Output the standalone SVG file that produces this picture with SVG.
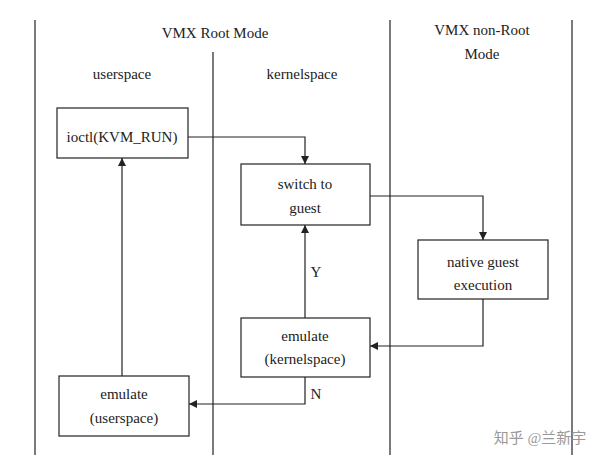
<svg xmlns="http://www.w3.org/2000/svg" width="600" height="461" viewBox="0 0 600 461">
<defs>
<marker id="ah" viewBox="0 0 10 10" refX="10" refY="5" markerWidth="8" markerHeight="8" orient="auto" markerUnits="userSpaceOnUse"><path d="M0,0 L10,5 L0,10 z" fill="#222"/></marker>
</defs>
<style>
text{font-family:"Liberation Serif","Noto Sans CJK SC",serif;font-size:15px;fill:#222;text-anchor:middle}
.box{fill:#fff;stroke:#222;stroke-width:1.2}
.ln{stroke:#222;stroke-width:1.2;fill:none}
.c{stroke:#222;stroke-width:1.2;fill:none;marker-end:url(#ah)}
</style>
<rect width="600" height="461" fill="#fff"/>
<g id="lanes">
<line class="ln" x1="35" y1="20" x2="35" y2="455"/>
<line class="ln" x1="213" y1="52" x2="213" y2="455"/>
<line class="ln" x1="390" y1="20" x2="390" y2="455"/>
<line class="ln" x1="572" y1="20" x2="572" y2="455"/>
<text x="215" y="38">VMX Root Mode</text>
<text x="482" y="35">VMX non-Root</text>
<text x="482" y="59">Mode</text>
<text x="122" y="79">userspace</text>
<text x="302" y="79">kernelspace</text>
</g>
<g id="connectors">
<path class="c" d="M188,137 H305 V164"/>
<path class="c" d="M370,196 H483 V240"/>
<path class="c" d="M483,299 V346 H370"/>
<path class="c" d="M305,318 V225"/>
<path class="c" d="M305,377 V404 H189"/>
<path class="c" d="M122,376 V158"/>
<text x="316" y="277">Y</text>
<text x="316" y="399">N</text>
</g>
<g id="ioctl"><rect class="box" x="57" y="108" width="131" height="50"/><text x="122" y="142">ioctl(KVM_RUN)</text></g>
<g id="switch"><rect class="box" x="241" y="164" width="129" height="61"/><text x="305" y="189">switch to</text><text x="305" y="213">guest</text></g>
<g id="native"><rect class="box" x="418" y="240" width="130" height="59"/><text x="483" y="267">native guest</text><text x="483" y="290">execution</text></g>
<g id="emuk"><rect class="box" x="241" y="318" width="129" height="59"/><text x="305" y="341">emulate</text><text x="305" y="364">(kernelspace)</text></g>
<g id="emuu"><rect class="box" x="59" y="376" width="130" height="60"/><text x="124" y="399">emulate</text><text x="124" y="423">(userspace)</text></g>
<text x="540" y="443" style="fill:#999;font-size:15px">知乎 @兰新宇</text>
</svg>
